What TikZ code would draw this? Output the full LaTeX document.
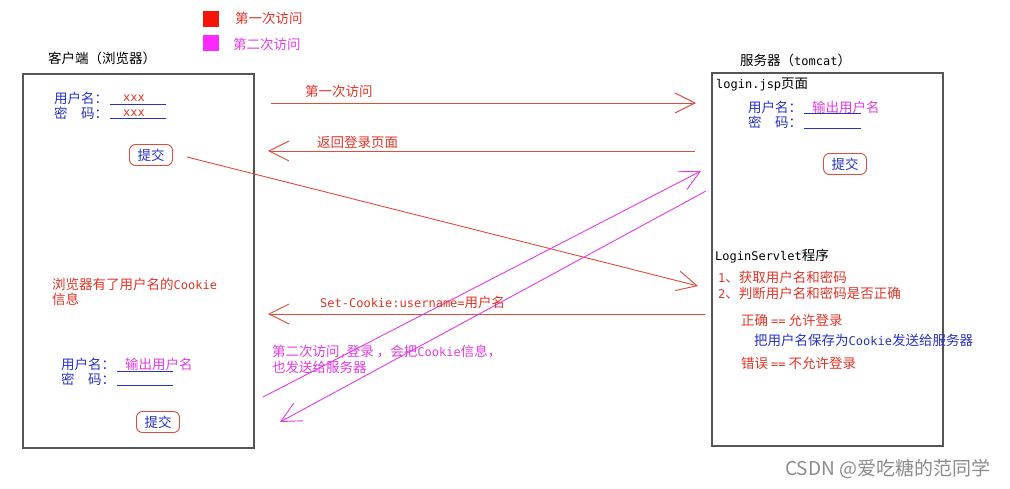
\documentclass[tikz,border=0pt]{standalone}
\usepackage{fontspec}
\setmainfont{Noto Sans CJK SC}
\newfontfamily\monofnt{DejaVu Sans Mono}
\newcommand\mo[1]{{\monofnt\fontsize{12}{14}\selectfont #1}}
\usetikzlibrary{arrows.meta}
\definecolor{tred}{RGB}{228,52,40}
\definecolor{lred}{RGB}{225,75,60}
\definecolor{tmag}{RGB}{228,60,228}
\definecolor{sqmag}{RGB}{255,40,255}
\definecolor{sqred}{RGB}{245,20,10}
\definecolor{tblue}{RGB}{40,50,200}
\definecolor{boxgray}{RGB}{85,85,85}
\begin{document}
\begin{tikzpicture}[x=1pt,y=-1pt,
  txt/.style={anchor=west,inner sep=0pt,font=\fontsize{13.5}{15}\selectfont},
  rtxt/.style={txt,text=tred},
  btxt/.style={txt,text=tblue},
  mtxt/.style={txt,text=tmag},
  frame/.style={draw=boxgray,line width=1.1pt,inner sep=0pt,outer sep=0pt,anchor=north west},
  submit/.style={draw=lred,line width=0.9pt,rounded corners=6pt,text=tblue,minimum width=43pt,minimum height=21pt,inner sep=0pt,font=\fontsize{13.5}{15}\selectfont},
  uline/.style={draw=tblue,line width=0.9pt},
  arr/.style={line width=0.9pt,-{Straight Barb[length=20pt,width=20pt,line width=0.9pt]}},
  redarr/.style={arr,draw=lred},
  magarr/.style={arr,draw=tmag}
]
\useasboundingbox (0,0) rectangle (1010,489);
\fill[white] (0,0) rectangle (1010,489);

% legend
\node[fill=sqred,minimum size=16pt,inner sep=0pt] (sq1) at (211,19) {};
\node[fill=sqmag,minimum size=16pt,inner sep=0pt] (sq2) at (211,43) {};
\node[rtxt] (lg1) at (235,18) {第一次访问};
\node[mtxt] (lg2) at (233,44) {第二次访问};

% frames
\node[frame,minimum width=231pt,minimum height=374pt] (client) at (23,74) {};
\node[frame,minimum width=231pt,minimum height=373pt] (server) at (712,73) {};
\node[txt] (ctitle) at (48,58) {客户端（浏览器）};
\node[txt] (stitle) at (740,60) {服务器（\mo{tomcat}）};

% client top form
\node[btxt] (cu1) at (54,98) {用户名：};
\node[btxt] (cp1) at (54,113) {密\hspace{1em}码：};
\node[txt,anchor=center,text=tred] (cx1) at (134,98) {\mo{xxx}};
\node[txt,anchor=center,text=tred] (cx2) at (134,113) {\mo{xxx}};
\draw[uline] (110,104) -- (166,104);
\draw[uline] (110,118) -- (166,118);
\node[submit] (csub1) at (151,155) {提交};

% client middle
\node[rtxt] (cck1) at (52,284) {浏览器有了用户名的\mo{Cookie}};
\node[rtxt] (cck2) at (52,299) {信息};

% client bottom form
\node[btxt] (cu2) at (61,364) {用户名：};
\node[btxt] (cp2) at (61,379) {密\hspace{1em}码：};
\node[mtxt] (cout) at (125,364) {输出用户名};
\draw[uline] (117,371) -- (173,371);
\draw[uline] (117,385) -- (173,385);
\node[submit] (csub2) at (158,422) {提交};

% server login.jsp
\node[txt] (sjsp) at (716,84) {\mo{login.jsp}页面};
\node[btxt] (su) at (748,107) {用户名：};
\node[btxt] (sp) at (748,122) {密\hspace{1em}码：};
\node[mtxt] (sout) at (812,107) {输出用户名};
\draw[uline] (804,113) -- (861,113);
\draw[uline] (804,128) -- (861,128);
\node[submit] (ssub) at (845,164) {提交};

% servlet
\node[txt] (sserv) at (715,256) {\mo{LoginServlet}程序};
\node[rtxt] (s1) at (718,277) {\mo{1}、获取用户名和密码};
\node[rtxt] (s2) at (718,293) {\mo{2}、判断用户名和密码是否正确};
\node[rtxt] (sok) at (741,320) {正确 \mo{==} 允许登录};
\node[btxt] (ssave) at (754,340) {把用户名保存为\mo{Cookie}发送给服务器};
\node[rtxt] (sbad) at (741,363) {错误 \mo{==} 不允许登录};

% arrow end points
\coordinate (a1s) at (271,103);
\coordinate (a1e) at (696,103);
\coordinate (a2s) at (695,151);
\coordinate (a2e) at (268,151);
\coordinate (a3s) at (187,157);
\coordinate (a3e) at (698,286);
\coordinate (a4s) at (705,314);
\coordinate (a4e) at (268,314);
\coordinate (m1s) at (263,397);
\coordinate (m1e) at (701,171);
\coordinate (m2s) at (706,191);
\coordinate (m2e) at (280,422);

\draw[redarr] (a1s) -- (a1e);
\draw[redarr] (a2s) -- (a2e);
\draw[redarr] (a3s) -- (a3e);
\draw[redarr] (a4s) -- (a4e);
\draw[magarr] (m1s) -- (m1e);
\draw[magarr] (m2s) -- (m2e);

% arrow labels
\node[rtxt] (l1) at (305,91) {第一次访问};
\node[rtxt] (l2) at (317,142) {返回登录页面};
\node[rtxt] (l4) at (320,302) {\mo{Set-Cookie:username=}用户名};
\node[mtxt] (l5) at (272,352) {第二次访问\mo{,}登录 ，会把\mo{Cookie}信息，};
\node[mtxt] (l6) at (272,367) {也发送给服务器};

% watermark
\node[anchor=west,inner sep=0pt,text={rgb,255:red,140;green,140;blue,140},font=\fontsize{19}{21}\selectfont] (wm) at (785,469) {CSDN @爱吃糖的范同学};
\end{tikzpicture}
\end{document}
